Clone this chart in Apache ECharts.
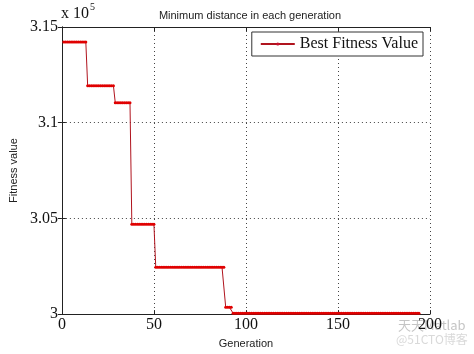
<!DOCTYPE html>
<html>
<head>
<meta charset="utf-8">
<script src="https://cdn.jsdelivr.net/npm/echarts@6/dist/echarts.min.js"></script>
<style>
  html, body { margin: 0; padding: 0; background: #fff; }
  #chart { width: 474px; height: 354px; }
</style>
</head>
<body>
<div id="chart"></div>
<script>
// Best fitness: each step starts at a generation and holds a value
const stepStarts = [1, 14, 29, 38, 51, 89, 93];
const stepValues = [314220, 311930, 311040, 304690, 302450, 300360, 300050];
const lastGeneration = 194;
const xTicks = [0, 50, 100, 150, 200];
const yTicks = [300000, 305000, 310000, 315000];

// expand the steps to one point per generation
const fitness = [];
for (let s = 0; s < stepStarts.length; s++) {
  const end = s + 1 < stepStarts.length ? stepStarts[s + 1] : lastGeneration + 1;
  for (let g = stepStarts[s]; g < end; g++) fitness.push([g, stepValues[s]]);
}

const serif = "Liberation Serif";
const sans = "Liberation Sans";

const chart = echarts.init(document.getElementById("chart"));

const axisBase = {
  axisLine: { show: true, lineStyle: { color: "#222", width: 1 } },
  axisTick: { show: true, inside: true, length: 4, lineStyle: { color: "#222" } },
};

chart.setOption({
  animation: false,
  backgroundColor: "#fff",
  title: {
    text: "Minimum distance in each generation",
    left: 245,
    top: 5,
    textAlign: "center",
    textStyle: { fontFamily: sans, fontSize: 11, fontWeight: "normal", color: "#222" },
  },
  grid: { left: 61, right: 44, top: 27, bottom: 38 },
  legend: {
    data: [{ name: "Best Fitness Value", itemStyle: { color: "#c8102e" } }],
    right: 51,
    top: 32,
    padding: [4, 5, 4, 8],
    itemWidth: 34,
    itemHeight: 4,
    itemGap: 4,
    borderColor: "#333",
    borderWidth: 1,
    backgroundColor: "#fff",
    textStyle: { fontFamily: serif, fontSize: 16, color: "#111" },
  },
  xAxis: [
    {
      ...axisBase,
      type: "value",
      min: xTicks[0],
      max: xTicks[xTicks.length - 1],
      interval: 50,
      name: "Generation",
      nameLocation: "middle",
      nameGap: 22,
      nameTextStyle: { fontFamily: sans, fontSize: 11, color: "#222" },
      axisLabel: { fontFamily: serif, fontSize: 16, color: "#111", margin: 3 },
      splitLine: { show: true, lineStyle: { color: "#444", type: [1, 3], width: 1 } },
    },
    {
      ...axisBase,
      type: "value",
      position: "top",
      min: xTicks[0],
      max: xTicks[xTicks.length - 1],
      interval: 50,
      axisLabel: { show: false },
      splitLine: { show: false },
    },
  ],
  yAxis: [
    {
      ...axisBase,
      type: "value",
      min: yTicks[0],
      max: yTicks[yTicks.length - 1],
      interval: 5000,
      name: "Fitness value",
      nameLocation: "middle",
      nameGap: 40,
      nameTextStyle: { fontFamily: sans, fontSize: 11, color: "#222" },
      axisLabel: {
        fontFamily: serif,
        fontSize: 16,
        color: "#111",
        margin: 4,
        formatter: (v) => String(+(v / 1e5).toFixed(2)),
      },
      splitLine: { show: true, lineStyle: { color: "#444", type: [1, 3], width: 1 } },
    },
    {
      ...axisBase,
      type: "value",
      position: "right",
      min: yTicks[0],
      max: yTicks[yTicks.length - 1],
      interval: 5000,
      axisLabel: { show: false },
      splitLine: { show: false },
    },
  ],
  graphic: [
    {
      type: "text",
      left: 61,
      top: 6,
      style: { text: "x 10", fontFamily: serif, fontSize: 16, fill: "#111" },
    },
    {
      type: "text",
      left: 90,
      top: 2,
      style: { text: "5", fontFamily: serif, fontSize: 10, fill: "#111" },
    },
    {
      type: "text",
      left: 398,
      top: 319,
      style: { text: "天天Matlab", fontFamily: "Noto Sans CJK SC", fontSize: 13, fill: "rgba(150,150,150,0.55)" },
    },
    {
      type: "text",
      left: 396,
      top: 333,
      style: { text: "@51CTO博客", fontFamily: "Noto Sans CJK SC", fontSize: 12, fill: "rgba(180,180,180,0.5)" },
    },
  ],
  series: [
    {
      name: "Best Fitness Value",
      type: "line",
      data: fitness,
      xAxisIndex: 0,
      yAxisIndex: 0,
      symbol: "circle",
      symbolSize: 3,
      showSymbol: true,
      color: "#e00000",
      lineStyle: { color: "#b0141e", width: 1 },
      itemStyle: { color: "#e00000" },
    },
  ],
});
</script>
</body>
</html>
